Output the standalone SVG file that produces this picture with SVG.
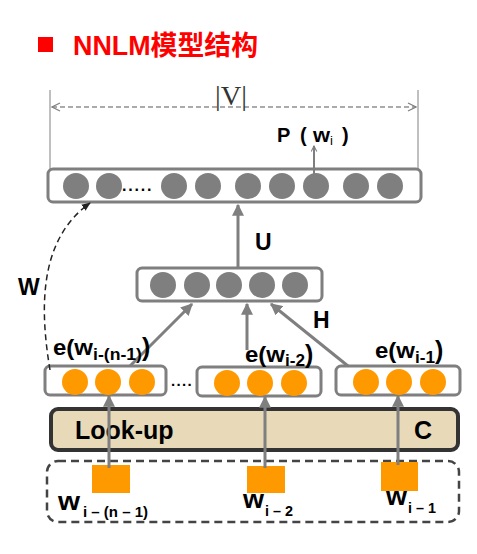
<svg xmlns="http://www.w3.org/2000/svg" width="477" height="554" viewBox="0 0 477 554">
<style>
.box{fill:#fff;stroke:#7f7f7f;stroke-width:3}
.gc{fill:#7f7f7f}
.oc{fill:#ff9900}
.arr{stroke:#7f7f7f;stroke-width:3;fill:none;marker-end:url(#ga)}
.lbl{font-family:"Liberation Sans",Arial,sans-serif;font-weight:bold;fill:#000}
</style>
<defs>
<marker id="ga" viewBox="0 0 10 10" refX="9" refY="5" markerWidth="4" markerHeight="4" orient="auto" markerUnits="strokeWidth"><path d="M0,0 L10,5 L0,10 z" fill="#7f7f7f"/></marker>
<marker id="oa" viewBox="0 0 10 10" refX="9" refY="5" markerWidth="7" markerHeight="7" orient="auto" markerUnits="userSpaceOnUse"><path d="M1,1 L9,5 L1,9" fill="none" stroke="#7f7f7f" stroke-width="1.5"/></marker>
<marker id="va" viewBox="0 0 10 10" refX="9" refY="5" markerWidth="10" markerHeight="10" orient="auto-start-reverse" markerUnits="userSpaceOnUse"><path d="M1,1 L9,5 L1,9" fill="none" stroke="#808080" stroke-width="1.3"/></marker>
<marker id="ba" viewBox="0 0 10 10" refX="9" refY="5" markerWidth="9" markerHeight="9" orient="auto" markerUnits="userSpaceOnUse"><path d="M0,1 L10,5 L0,9 z" fill="#222"/></marker>
</defs>

<g id="title">
<rect x="38" y="37" width="15" height="15" fill="#ff0000"/>
<text x="73" y="55" font-family="'Liberation Sans','Noto Sans CJK SC',sans-serif" font-weight="bold" font-size="27" fill="#ff0000" textLength="185" lengthAdjust="spacingAndGlyphs">NNLM模型结构</text>
</g>

<g id="dimension">
<line x1="50" y1="90" x2="50" y2="172" stroke="#808080" stroke-width="1"/>
<line x1="418" y1="90" x2="418" y2="172" stroke="#808080" stroke-width="1"/>
<line x1="52" y1="107" x2="416" y2="107" stroke="#909090" stroke-width="1.3" stroke-dasharray="5,3" marker-start="url(#va)" marker-end="url(#va)"/>
<text x="215" y="105" font-family="'Liberation Serif',serif" font-size="28" fill="#333" textLength="32" lengthAdjust="spacingAndGlyphs">|V|</text>
</g>

<g id="output-layer">
<rect class="box" x="48" y="169" width="373" height="33" rx="5"/>
<circle class="gc" cx="76" cy="186" r="13"/>
<circle class="gc" cx="109" cy="186" r="13"/>
<circle class="gc" cx="174" cy="186" r="13"/>
<circle class="gc" cx="208" cy="186" r="13"/>
<circle class="gc" cx="248" cy="186" r="13"/>
<circle class="gc" cx="282" cy="186" r="13"/>
<circle class="gc" cx="316" cy="186" r="13"/>
<circle class="gc" cx="356" cy="186" r="13"/>
<circle class="gc" cx="390" cy="186" r="13"/>
<text class="lbl" x="122" y="191" font-size="16" letter-spacing="1.8">.....</text>
</g>

<g id="p-label">
<text class="lbl" font-size="20"><tspan x="277" y="142">P</tspan><tspan x="300" y="142">(</tspan><tspan x="313" y="142" textLength="17" lengthAdjust="spacingAndGlyphs">w</tspan><tspan x="330" y="145" font-size="13" font-weight="normal">i</tspan><tspan x="342" y="142">)</tspan></text>
</g>

<g id="hidden-layer">
<rect class="box" x="137" y="268" width="185" height="33" rx="5"/>
<circle class="gc" cx="163" cy="285" r="13"/>
<circle class="gc" cx="197" cy="285" r="13"/>
<circle class="gc" cx="229" cy="285" r="13"/>
<circle class="gc" cx="262" cy="285" r="13"/>
<circle class="gc" cx="295" cy="285" r="13"/>
</g>

<g id="emb1">
<rect class="box" x="45" y="366" width="121" height="29" rx="5"/>
<circle class="oc" cx="75" cy="382" r="13"/>
<circle class="oc" cx="108" cy="382" r="13"/>
<circle class="oc" cx="142" cy="382" r="13"/>
</g>
<g id="emb2">
<rect class="box" x="197" y="367" width="124" height="29" rx="5"/>
<circle class="oc" cx="227" cy="383" r="13"/>
<circle class="oc" cx="260" cy="383" r="13"/>
<circle class="oc" cx="294" cy="383" r="13"/>
</g>
<g id="emb3">
<rect class="box" x="336" y="366" width="124" height="29" rx="5"/>
<circle class="oc" cx="366" cy="382" r="13"/>
<circle class="oc" cx="399" cy="382" r="13"/>
<circle class="oc" cx="433" cy="382" r="13"/>
</g>
<text class="lbl" x="171" y="386" font-size="15" letter-spacing="1.3">....</text>

<g id="lookup">
<rect x="51" y="409" width="407" height="41" rx="7" fill="#e8d9b9" stroke="#333" stroke-width="4"/>
<text class="lbl" x="75" y="439" font-size="25">Look-up</text>
<text class="lbl" x="414" y="439" font-size="25">C</text>
</g>

<g id="input">
<rect x="47" y="461" width="412" height="61" rx="11" fill="none" stroke="#444" stroke-width="2.5" stroke-dasharray="8,5"/>
<rect x="92" y="465" width="38" height="28" fill="#ff9900"/>
<rect x="247" y="466" width="38" height="27" fill="#ff9900"/>
<rect x="381" y="462" width="37" height="29" fill="#ff9900"/>
</g>

<g id="connectors">
<line class="arr" x1="109" y1="468" x2="109" y2="396"/>
<line class="arr" x1="265" y1="468" x2="265" y2="397"/>
<line class="arr" x1="398" y1="465" x2="398" y2="396"/>
<line class="arr" x1="130" y1="366" x2="192" y2="304"/>
<line class="arr" x1="247" y1="350" x2="247" y2="304"/>
<line class="arr" x1="348" y1="366" x2="271" y2="304"/>
<line class="arr" x1="238" y1="268" x2="238" y2="205"/>
<line x1="314" y1="176" x2="314" y2="146" stroke="#7f7f7f" stroke-width="2" marker-end="url(#oa)"/>
<path d="M50,370 C40,310 38,240 90,203" fill="none" stroke="#222" stroke-width="1.5" stroke-dasharray="6,4" marker-end="url(#ba)"/>
</g>

<g id="labels">
<text class="lbl" x="255" y="250" font-size="23">U</text>
<text class="lbl" x="18" y="295" font-size="23">W</text>
<text class="lbl" x="313" y="328" font-size="23">H</text>
<text class="lbl" font-size="22"><tspan x="53" y="355" textLength="40" lengthAdjust="spacingAndGlyphs">e(w</tspan><tspan x="93" y="360" font-size="16" textLength="49" lengthAdjust="spacingAndGlyphs">i-(n-1)</tspan><tspan x="142" y="356" font-size="25">)</tspan></text>
<text class="lbl" font-size="22"><tspan x="245" y="362" textLength="40" lengthAdjust="spacingAndGlyphs">e(w</tspan><tspan x="285" y="366" font-size="16" textLength="20" lengthAdjust="spacingAndGlyphs">i-2</tspan><tspan x="305" y="363" font-size="25">)</tspan></text>
<text class="lbl" font-size="22"><tspan x="375" y="358" textLength="40" lengthAdjust="spacingAndGlyphs">e(w</tspan><tspan x="415" y="363" font-size="16" textLength="20" lengthAdjust="spacingAndGlyphs">i-1</tspan><tspan x="435" y="359" font-size="25">)</tspan></text>
<text class="lbl" font-size="25"><tspan x="58" y="510" textLength="22" lengthAdjust="spacingAndGlyphs">w</tspan><tspan x="83" y="517" font-size="15" textLength="65" lengthAdjust="spacingAndGlyphs" xml:space="preserve">i – (n – 1)</tspan></text>
<text class="lbl" font-size="25"><tspan x="243" y="508" textLength="21" lengthAdjust="spacingAndGlyphs">w</tspan><tspan x="265" y="516" font-size="15" textLength="28" lengthAdjust="spacingAndGlyphs" xml:space="preserve">i – 2</tspan></text>
<text class="lbl" font-size="25"><tspan x="386" y="505" textLength="21" lengthAdjust="spacingAndGlyphs">w</tspan><tspan x="408" y="513" font-size="15" textLength="28" lengthAdjust="spacingAndGlyphs" xml:space="preserve">i – 1</tspan></text>
</g>
</svg>
